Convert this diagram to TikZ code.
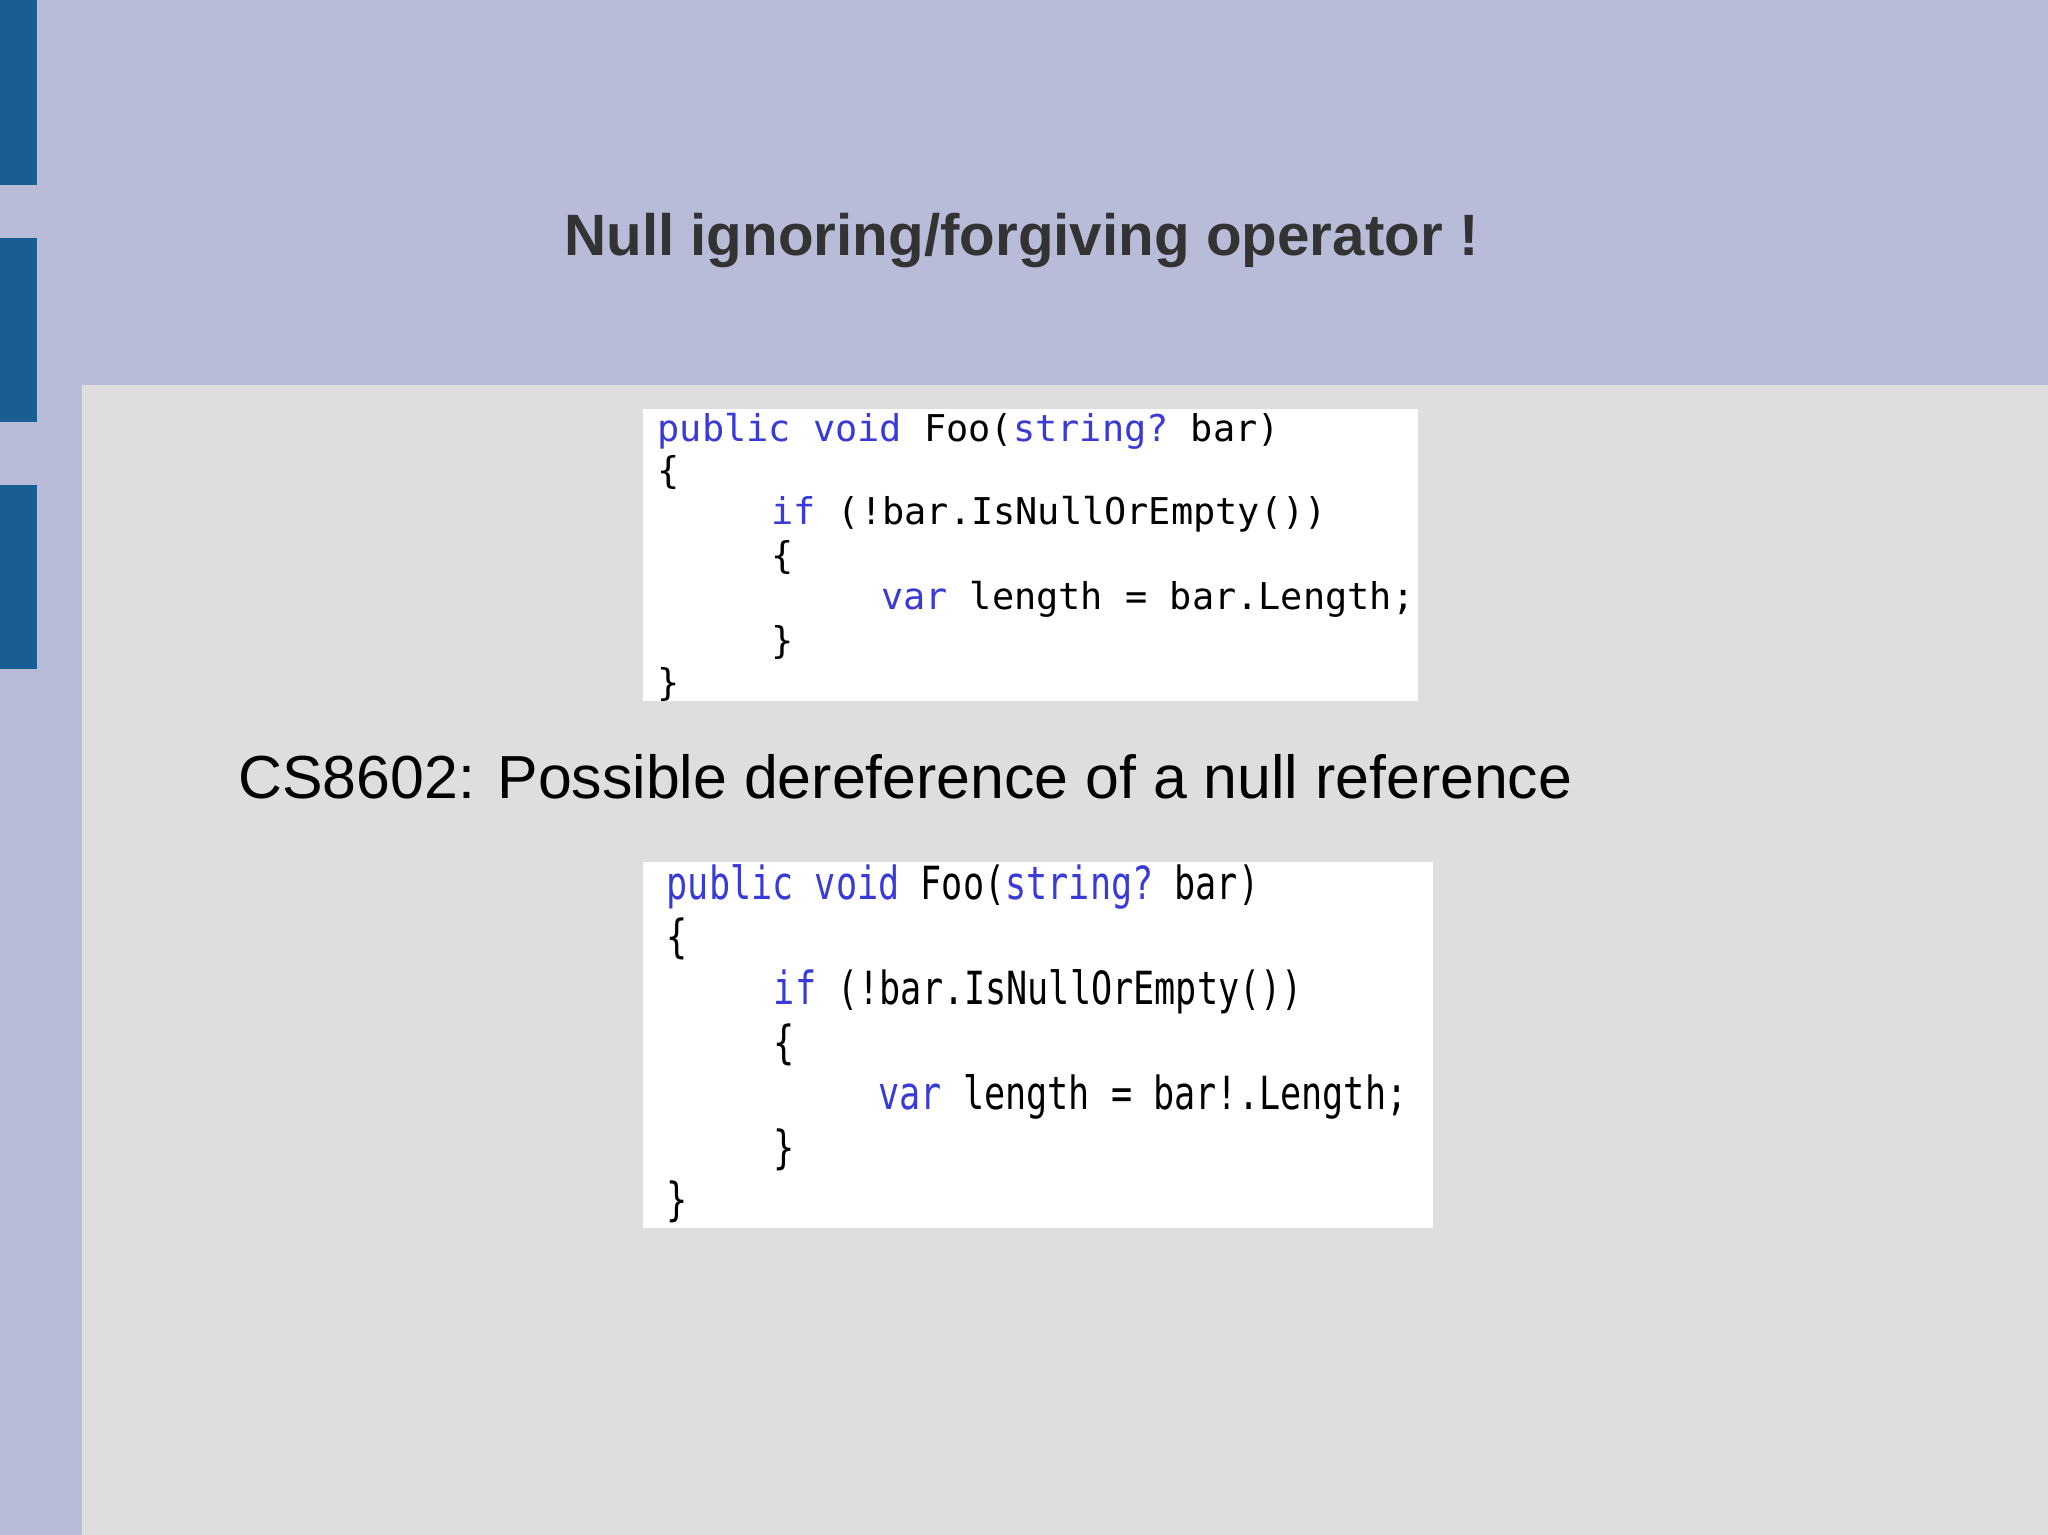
\documentclass[tikz,border=0pt]{standalone}
\usepackage{fontspec}
\setmainfont{Liberation Sans}
\setmonofont{DejaVu Sans Mono}
\definecolor{bgl}{HTML}{B9BCD9}
\definecolor{barb}{HTML}{195E92}
\definecolor{content}{HTML}{DFDEDF}
\definecolor{kw}{HTML}{3A3AD8}
\definecolor{txt}{HTML}{333333}
\newcommand{\kw}[1]{\textcolor{kw}{#1}}
\begin{document}
\begin{tikzpicture}[x=0.01306cm,y=-0.01306cm,
  codeA/.style={anchor=west,inner sep=0pt,font=\ttfamily\fontsize{10.5}{12}\selectfont},
  codeB/.style={anchor=west,inner sep=0pt,font=\ttfamily\fontsize{10}{12}\selectfont,yscale=1.3,transform shape}]
\useasboundingbox (0,0) rectangle (1568,1175);
\fill[bgl] (0,0) rectangle (1568,1175);
\fill[barb] (0,0) rectangle (28,142);
\fill[barb] (0,182) rectangle (28,323);
\fill[barb] (0,371) rectangle (28,512);
\fill[content] (63,295) rectangle (1568,1175);
\node[font=\bfseries\fontsize{16.6}{20}\selectfont,text=txt] (title) at (782,184) {Null ignoring/forgiving operator !};
\node[font=\fontsize{17.3}{20}\selectfont,anchor=west,inner sep=0pt] (msg) at (182,595) {CS8602: Possible dereference of a null reference};
% box 1
\fill[white] (492,313) rectangle (1086,537);
\node[codeA] (a1) at (503,330) {\kw{public void} Foo(\kw{string?} bar)};
\node[codeA] (a2) at (503,362) {\{};
\node[codeA] (a3) at (590,394) {\kw{if} (!bar.IsNullOrEmpty())};
\node[codeA] (a4) at (590,427) {\{};
\node[codeA] (a5) at (674,459) {\kw{var} length = bar.Length;};
\node[codeA] (a6) at (590,492) {\}};
\node[codeA] (a7) at (503,524) {\}};
% box 2
\fill[white] (492,660) rectangle (1097,940);
\node[codeB] (b1) at (510,679) {\kw{public void} Foo(\kw{string?} bar)};
\node[codeB] (b2) at (510,719) {\{};
\node[codeB] (b3) at (592,759) {\kw{if} (!bar.IsNullOrEmpty())};
\node[codeB] (b4) at (592,800) {\{};
\node[codeB] (b5) at (672,840) {\kw{var} length = bar!.Length;};
\node[codeB] (b6) at (592,880) {\}};
\node[codeB] (b7) at (510,920) {\}};
\end{tikzpicture}
\end{document}
